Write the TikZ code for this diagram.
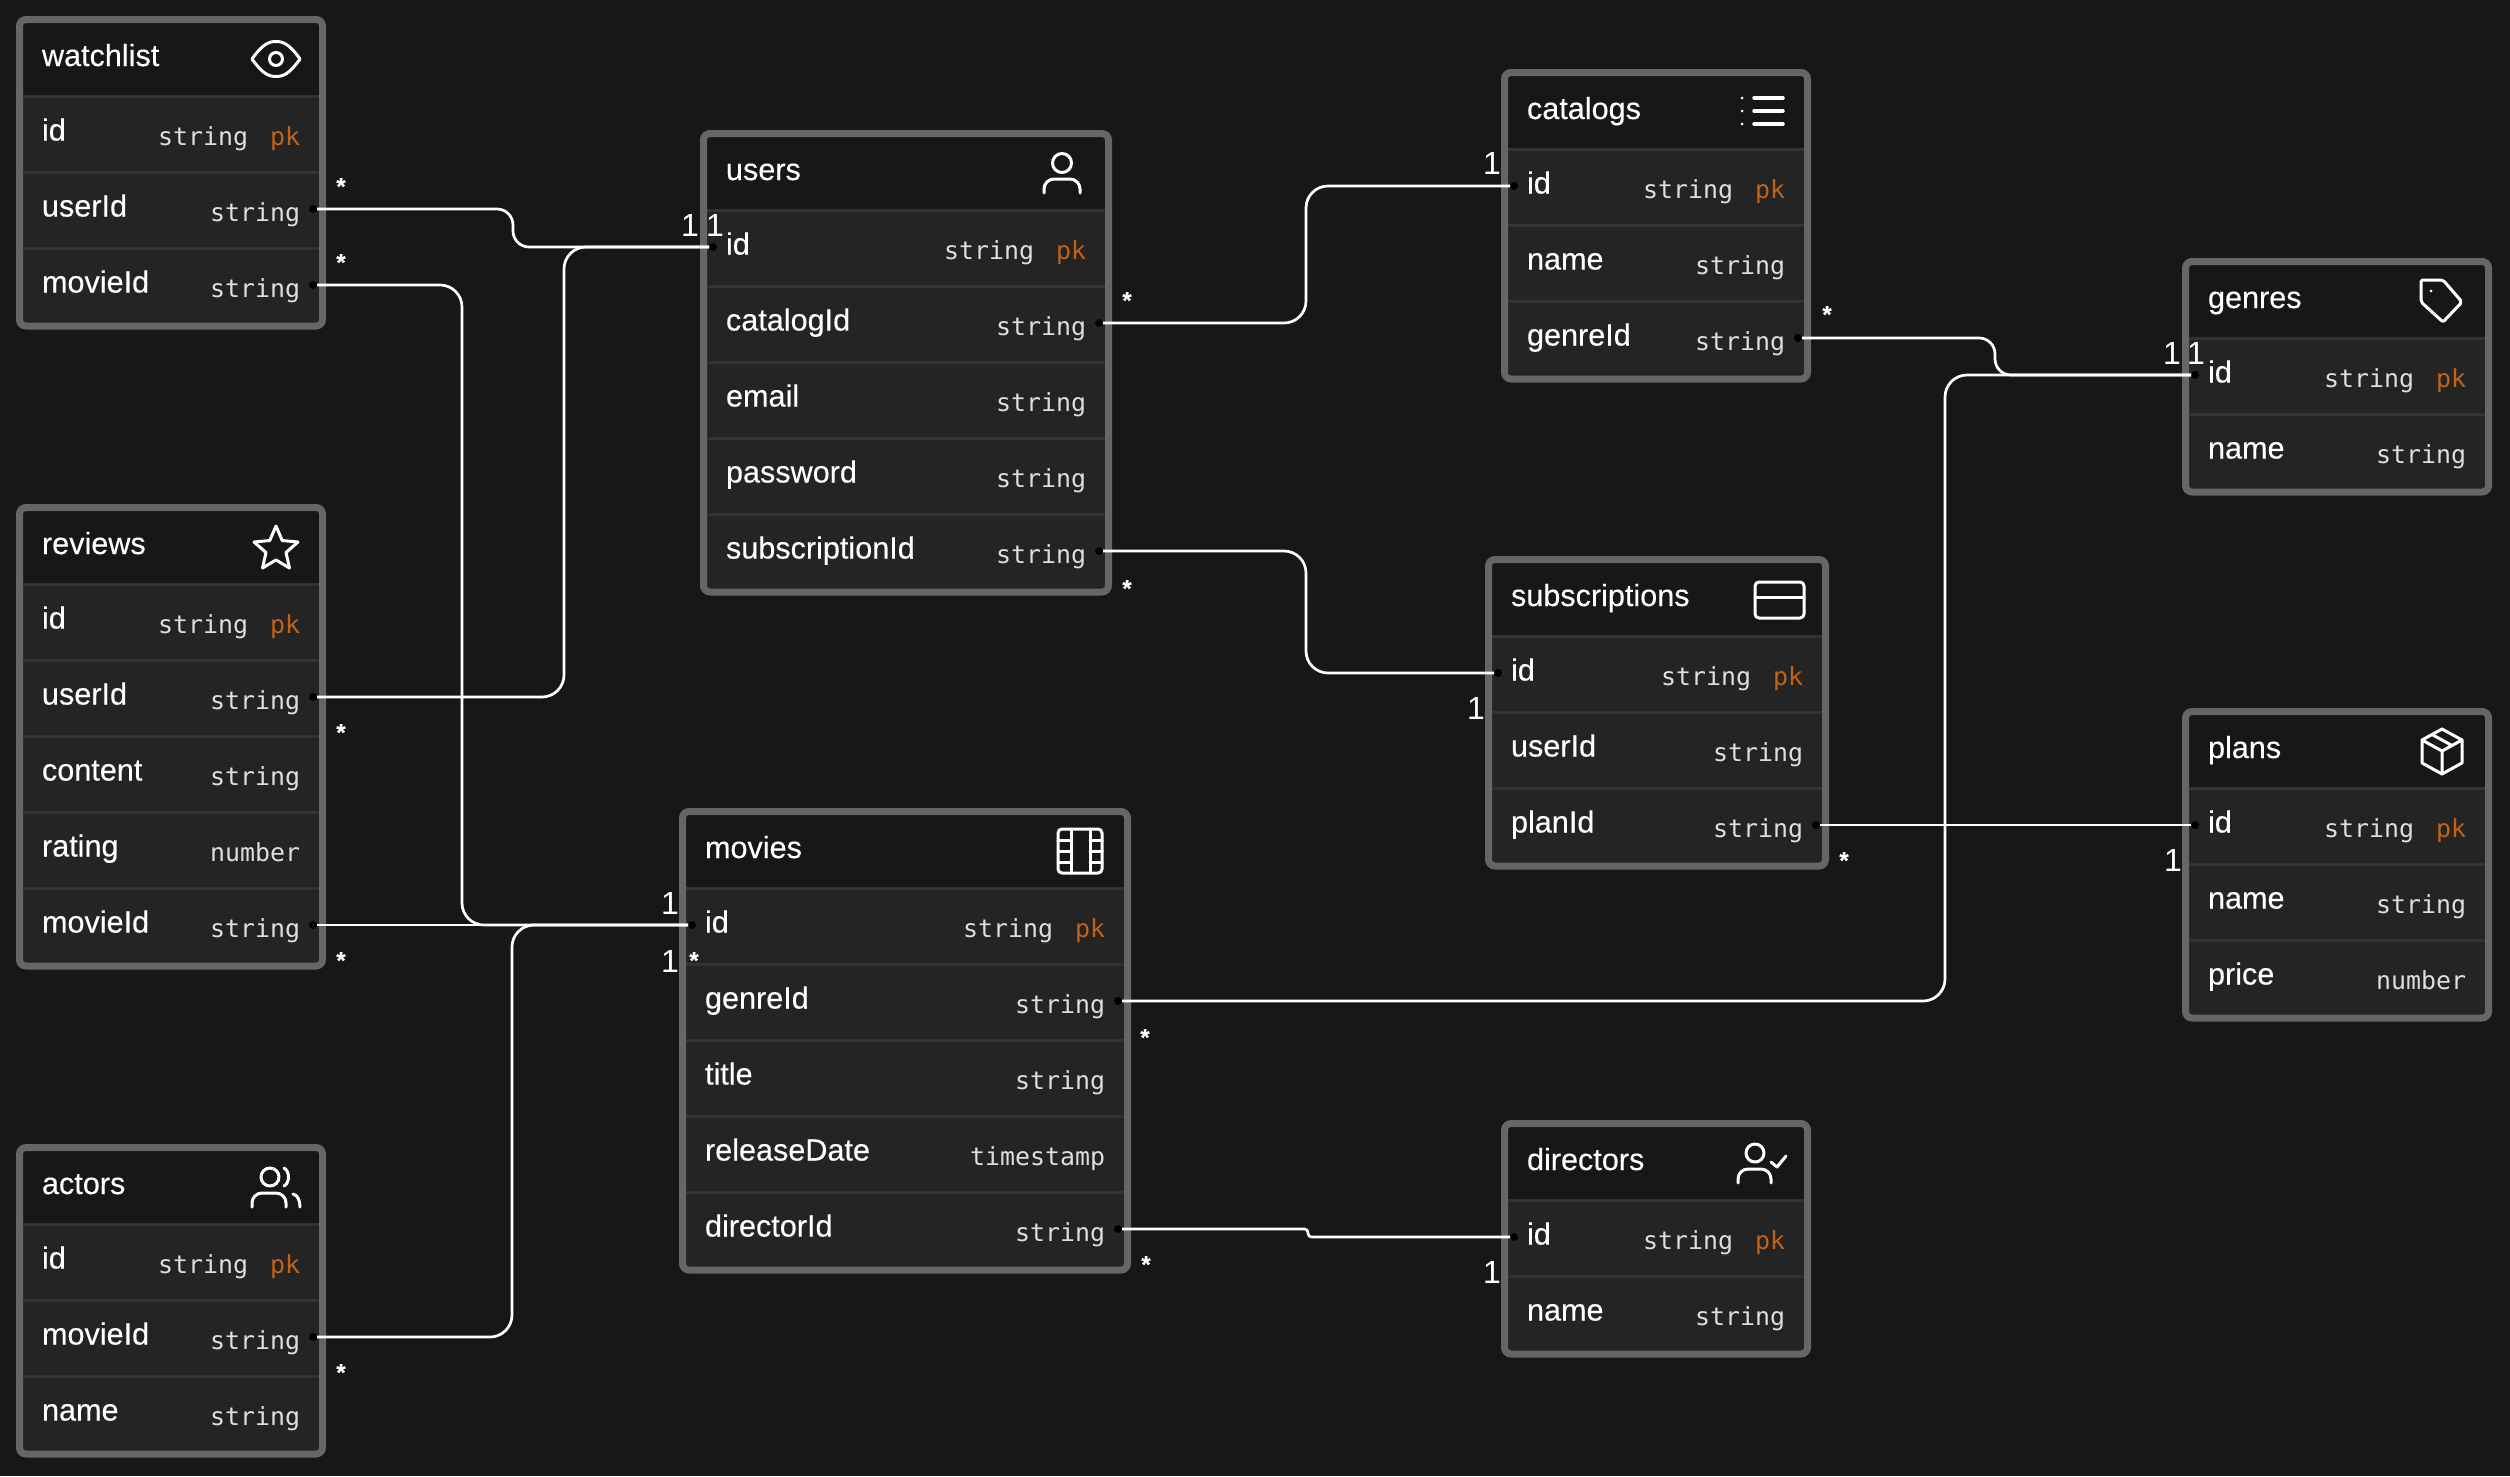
\documentclass[tikz,border=0pt]{standalone}
\usepackage{fontspec}
\setmainfont{Liberation Sans}[FakeBold=0.3]
\setmonofont{DejaVu Sans Mono}
\newfontfamily\cardfont{Liberation Sans}
\usepackage{xcolor}
\usetikzlibrary{positioning,calc,fit}
\definecolor{noirfond}{RGB}{23,23,23}
\definecolor{grisligne}{RGB}{36,36,36}
\definecolor{grissep}{RGB}{51,51,51}
\definecolor{griscadre}{RGB}{102,102,102}
\definecolor{gristype}{RGB}{222,222,222}
\definecolor{orangepk}{RGB}{192,98,24}
\newcommand{\ftype}[1]{\hfill\raisebox{-5pt}{\fontsize{24.9}{30}\selectfont\ttfamily\color{gristype}#1}}
\newcommand{\fpk}{\hspace{22pt}\raisebox{-5pt}{\fontsize{24.9}{30}\selectfont\ttfamily\color{orangepk}pk}}
\tikzset{
  icone/.style={draw=white,line width=3pt,line join=round,line cap=round},
  oeil/.pic={\draw[icone] (-24,0) .. controls (-14,-14) and (-8,-17.5) .. (0,-17.5) .. controls (8,-17.5) and (14,-14) .. (24,0) .. controls (14,14) and (8,17.5) .. (0,17.5) .. controls (-8,17.5) and (-14,14) .. (-24,0) -- cycle;
    \draw[icone] (0,0) circle[radius=6.5];},
  personne/.pic={\draw[icone] (0,-10) circle[radius=9.5];
    \draw[icone,rounded corners=10pt] (-18,20) -- (-18,6) -- (18,6) -- (18,20);},
  liste/.pic={\foreach \y in {-14,-1,12} {\draw[icone,line width=3.5pt] (-7,\y) -- (22,\y);
      \fill[white] (-19,\y) circle[radius=1.5];}},
  etiquette/.pic={\draw[icone,rounded corners=2pt] (-21,-21) -- (1,-21) -- (20,1) -- (1,21) -- (-21,1) -- cycle;
    \fill[white] (-11,-10) circle[radius=1.5];},
  carte/.pic={\draw[icone,rounded corners=4pt] (-24,-17) rectangle (25,19);
    \draw[icone] (-24,-2) -- (25,-2);},
  paquet/.pic={\draw[icone] (0,-22) -- (20,-11) -- (20,12) -- (0,23) -- (-20,12) -- (-20,-11) -- cycle;
    \draw[icone] (-20,-11) -- (0,0) -- (20,-11) (0,0) -- (0,23) (-10,-16.5) -- (10,-5.5);},
  pellicule/.pic={\draw[icone,rounded corners=4pt] (-23,-22) rectangle (21,22);
    \draw[icone] (-10,-22) -- (-10,22) (9,-22) -- (9,22);
    \foreach \y in {-11,0,11} {\draw[icone] (-23,\y) -- (-10,\y) (9,\y) -- (21,\y);}},
  etoile5/.pic={\draw[icone] (0,-21) -- (6.2,-6.5) -- (22,-5) -- (10,5.5) -- (13.5,21) -- (0,13) -- (-13.5,21) -- (-10,5.5) -- (-22,-5) -- (-6.2,-6.5) -- cycle;},
  groupe/.pic={\draw[icone] (-6,-10) circle[radius=9];
    \draw[icone,rounded corners=10pt] (-24,20) -- (-24,6) -- (10,6) -- (10,20);
    \draw[icone] (8,-19) .. controls (14,-16) and (14,-4) .. (8,-1);
    \draw[icone] (17,7) .. controls (22,8) and (24,14) .. (24,20);},
  valide/.pic={\draw[icone] (-6,-10) circle[radius=9];
    \draw[icone,rounded corners=10pt] (-23,20) -- (-23,6) -- (10,6) -- (10,20);
    \draw[icone] (10,-1) -- (16,4) -- (25,-7);}
}
\begin{document}
\begin{tikzpicture}[x=1pt,y=-1pt,text=white,font=\fontsize{30.6}{36}\selectfont,
  entete/.style={fill=noirfond,anchor=north west,minimum height=74.5pt,inner xsep=21pt,inner ysep=0pt,outer sep=0pt,text height=23pt,text depth=8.5pt},
  ligne/.style={draw=grissep,fill=grisligne,line width=3pt,minimum height=76pt,inner xsep=21pt,inner ysep=0pt,outer sep=0pt,text height=21pt,text depth=8pt},
  cadre/.style={draw=griscadre,line width=7pt,rounded corners=6.5pt,inner xsep=1.5pt,inner ysep=2pt},
  port/.style={circle,fill=black,minimum size=8pt,inner sep=0pt,outer sep=0pt},
  lien/.style={draw=white,line width=2.7pt,rounded corners=22pt},
  etoile/.style={font=\fontsize{24}{30}\selectfont\bfseries,inner sep=0pt,yshift=-2.4pt},
  card/.style={font=\fontsize{32}{36}\selectfont\cardfont,inner sep=0pt}]
\fill[noirfond] (0,0) rectangle (2510,1476);

\begin{scope}[text width=258pt]
\node[entete] (watchlist) at (21,21.5) {watchlist};
\node[ligne,below=0pt of watchlist] (watchlistid) {id\ftype{string}\fpk};
\node[ligne,below=0pt of watchlistid] (watchlistuserid) {userId\ftype{string}};
\node[ligne,below=0pt of watchlistuserid] (watchlistmovieid) {movieId\ftype{string}};
\end{scope}
\node[cadre,fit=(watchlist)(watchlistmovieid)] (cadrewatchlist) {};
\pic at ([shift={(-45,37.5)}]watchlist.north east) {oeil};

\begin{scope}[text width=258pt]
\node[entete] (reviews) at (21,509.5) {reviews};
\node[ligne,below=0pt of reviews] (reviewsid) {id\ftype{string}\fpk};
\node[ligne,below=0pt of reviewsid] (reviewsuserid) {userId\ftype{string}};
\node[ligne,below=0pt of reviewsuserid] (reviewscontent) {content\ftype{string}};
\node[ligne,below=0pt of reviewscontent] (reviewsrating) {rating\ftype{number}};
\node[ligne,below=0pt of reviewsrating] (reviewsmovieid) {movieId\ftype{string}};
\end{scope}
\node[cadre,fit=(reviews)(reviewsmovieid)] (cadrereviews) {};
\pic at ([shift={(-45,37.5)}]reviews.north east) {etoile5};

\begin{scope}[text width=258pt]
\node[entete] (actors) at (21,1149.5) {actors};
\node[ligne,below=0pt of actors] (actorsid) {id\ftype{string}\fpk};
\node[ligne,below=0pt of actorsid] (actorsmovieid) {movieId\ftype{string}};
\node[ligne,below=0pt of actorsmovieid] (actorsname) {name\ftype{string}};
\end{scope}
\node[cadre,fit=(actors)(actorsname)] (cadreactors) {};
\pic at ([shift={(-45,37.5)}]actors.north east) {groupe};

\begin{scope}[text width=360pt]
\node[entete] (users) at (705,135.5) {users};
\node[ligne,below=0pt of users] (usersid) {id\ftype{string}\fpk};
\node[ligne,below=0pt of usersid] (userscatalogid) {catalogId\ftype{string}};
\node[ligne,below=0pt of userscatalogid] (usersemail) {email\ftype{string}};
\node[ligne,below=0pt of usersemail] (userspassword) {password\ftype{string}};
\node[ligne,below=0pt of userspassword] (userssubscriptionid) {subscriptionId\ftype{string}};
\end{scope}
\node[cadre,fit=(users)(userssubscriptionid)] (cadreusers) {};
\pic at ([shift={(-45,37.5)}]users.north east) {personne};

\begin{scope}[text width=400pt]
\node[entete] (movies) at (684,813.5) {movies};
\node[ligne,below=0pt of movies] (moviesid) {id\ftype{string}\fpk};
\node[ligne,below=0pt of moviesid] (moviesgenreid) {genreId\ftype{string}};
\node[ligne,below=0pt of moviesgenreid] (moviestitle) {title\ftype{string}};
\node[ligne,below=0pt of moviestitle] (moviesrelease) {releaseDate\ftype{timestamp}};
\node[ligne,below=0pt of moviesrelease] (moviesdirectorid) {directorId\ftype{string}};
\end{scope}
\node[cadre,fit=(movies)(moviesdirectorid)] (cadremovies) {};
\pic at ([shift={(-45,37.5)}]movies.north east) {pellicule};

\begin{scope}[text width=258pt]
\node[entete] (catalogs) at (1506,74.5) {catalogs};
\node[ligne,below=0pt of catalogs] (catalogsid) {id\ftype{string}\fpk};
\node[ligne,below=0pt of catalogsid] (catalogsname) {name\ftype{string}};
\node[ligne,below=0pt of catalogsname] (catalogsgenreid) {genreId\ftype{string}};
\end{scope}
\node[cadre,fit=(catalogs)(catalogsgenreid)] (cadrecatalogs) {};
\pic at ([shift={(-45,37.5)}]catalogs.north east) {liste};

\begin{scope}[text width=292pt]
\node[entete] (subscriptions) at (1490,561.5) {subscriptions};
\node[ligne,below=0pt of subscriptions] (subscriptionsid) {id\ftype{string}\fpk};
\node[ligne,below=0pt of subscriptionsid] (subscriptionsuserid) {userId\ftype{string}};
\node[ligne,below=0pt of subscriptionsuserid] (subscriptionsplanid) {planId\ftype{string}};
\end{scope}
\node[cadre,fit=(subscriptions)(subscriptionsplanid)] (cadresubscriptions) {};
\pic at ([shift={(-45,37.5)}]subscriptions.north east) {carte};

\begin{scope}[text width=258pt]
\node[entete] (directors) at (1506,1125.5) {directors};
\node[ligne,below=0pt of directors] (directorsid) {id\ftype{string}\fpk};
\node[ligne,below=0pt of directorsid] (directorsname) {name\ftype{string}};
\end{scope}
\node[cadre,fit=(directors)(directorsname)] (cadredirectors) {};
\pic at ([shift={(-45,37.5)}]directors.north east) {valide};

\begin{scope}[text width=258pt]
\node[entete] (genres) at (2187,263.5) {genres};
\node[ligne,below=0pt of genres] (genresid) {id\ftype{string}\fpk};
\node[ligne,below=0pt of genresid] (genresname) {name\ftype{string}};
\end{scope}
\node[cadre,fit=(genres)(genresname)] (cadregenres) {};
\pic at ([shift={(-45,37.5)}]genres.north east) {etiquette};

\begin{scope}[text width=258pt]
\node[entete] (plans) at (2187,713.5) {plans};
\node[ligne,below=0pt of plans] (plansid) {id\ftype{string}\fpk};
\node[ligne,below=0pt of plansid] (plansname) {name\ftype{string}};
\node[ligne,below=0pt of plansname] (plansprice) {price\ftype{number}};
\end{scope}
\node[cadre,fit=(plans)(plansprice)] (cadreplans) {};
\pic at ([shift={(-45,37.5)}]plans.north east) {paquet};

\node[port] (pwatchlistuserid) at ([shift={(-8,-1)}]watchlistuserid.east) {};
\node[port] (pwatchlistmovieid) at ([shift={(-8,-1)}]watchlistmovieid.east) {};
\node[port] (previewsuserid) at ([shift={(-8,-1)}]reviewsuserid.east) {};
\node[port] (previewsmovieid) at ([shift={(-8,-1)}]reviewsmovieid.east) {};
\node[port] (pactorsmovieid) at ([shift={(-8,-1)}]actorsmovieid.east) {};
\node[port] (puserscatalogid) at ([shift={(-8,-1)}]userscatalogid.east) {};
\node[port] (puserssubscriptionid) at ([shift={(-8,-1)}]userssubscriptionid.east) {};
\node[port] (pmoviesgenreid) at ([shift={(-8,-1)}]moviesgenreid.east) {};
\node[port] (pmoviesdirectorid) at ([shift={(-8,-1)}]moviesdirectorid.east) {};
\node[port] (pcatalogsgenreid) at ([shift={(-8,-1)}]catalogsgenreid.east) {};
\node[port] (psubscriptionsplanid) at ([shift={(-8,-1)}]subscriptionsplanid.east) {};
\node[port] (pusersid) at ([shift={(8,-1)}]usersid.west) {};
\node[port] (pmoviesid) at ([shift={(8,-1)}]moviesid.west) {};
\node[port] (pcatalogsid) at ([shift={(8,-1)}]catalogsid.west) {};
\node[port] (psubscriptionsid) at ([shift={(8,-1)}]subscriptionsid.west) {};
\node[port] (pdirectorsid) at ([shift={(8,-1)}]directorsid.west) {};
\node[port] (pgenresid) at ([shift={(8,-1)}]genresid.west) {};
\node[port] (pplansid) at ([shift={(8,-1)}]plansid.west) {};

\draw[lien,rounded corners=16pt] (pwatchlistuserid.east) -| ($(pusersid.west)+(-196,0)$) -- (pusersid.west);
\draw[lien] (pwatchlistmovieid.east) -| ($(pmoviesid.west)+(-226,0)$) -- (pmoviesid.west);
\draw[lien] (previewsuserid.east) -| ($(pusersid.west)+(-145,0)$) -- (pusersid.west);
\draw[lien] (previewsmovieid.east) -- (pmoviesid.west);
\draw[lien] (pactorsmovieid.east) -| ($(pmoviesid.west)+(-176,0)$) -- (pmoviesid.west);
\draw[lien] (puserscatalogid.east) -| ($(pcatalogsid.west)+(-204,0)$) -- (pcatalogsid.west);
\draw[lien] (puserssubscriptionid.east) -| ($(psubscriptionsid.west)+(-188,0)$) -- (psubscriptionsid.west);
\draw[lien,rounded corners=16pt] (pcatalogsgenreid.east) -| ($(pgenresid.west)+(-196,0)$) -- (pgenresid.west);
\draw[lien] (pmoviesgenreid.east) -| ($(pgenresid.west)+(-246,0)$) -- (pgenresid.west);
\draw[lien] (psubscriptionsplanid.east) -- (pplansid.west);
\draw[lien,rounded corners=3.5pt] (pmoviesdirectorid.east) -| ($(pdirectorsid.west)+(-202,0)$) -- (pdirectorsid.west);

\node[etoile] (e1) at ([shift={(28,-25)}]pwatchlistuserid) {*};
\node[etoile] (e2) at ([shift={(28,-25)}]pwatchlistmovieid) {*};
\node[etoile] (e3) at ([shift={(28,33)}]previewsuserid) {*};
\node[etoile] (e4) at ([shift={(28,33)}]previewsmovieid) {*};
\node[etoile] (e5) at ([shift={(28,33)}]pactorsmovieid) {*};
\node[etoile] (e6) at ([shift={(28,-25)}]puserscatalogid) {*};
\node[etoile] (e7) at ([shift={(28,35)}]puserssubscriptionid) {*};
\node[etoile] (e8) at ([shift={(27,34)}]pmoviesgenreid) {*};
\node[etoile] (e9) at ([shift={(28,33)}]pmoviesdirectorid) {*};
\node[etoile] (e10) at ([shift={(29,-26)}]pcatalogsgenreid) {*};
\node[etoile] (e11) at ([shift={(28,33)}]psubscriptionsplanid) {*};
\node[etoile] (e12) at ([shift={(2,33)}]pmoviesid) {*};

\node[card] (c1) at ([shift={(-23,-22)}]pusersid) {1};
\node[card] (c2) at ([shift={(2,-22)}]pusersid) {1};
\node[card] (c3) at ([shift={(-22,-22)}]pmoviesid) {1};
\node[card] (c4) at ([shift={(-22,36)}]pmoviesid) {1};
\node[card] (c5) at ([shift={(-22,-23)}]pcatalogsid) {1};
\node[card] (c6) at ([shift={(-22,35)}]psubscriptionsid) {1};
\node[card] (c7) at ([shift={(-22,35)}]pdirectorsid) {1};
\node[card] (c8) at ([shift={(-23,-22)}]pgenresid) {1};
\node[card] (c9) at ([shift={(1,-22)}]pgenresid) {1};
\node[card] (c10) at ([shift={(-22,35)}]pplansid) {1};
\end{tikzpicture}
\end{document}
